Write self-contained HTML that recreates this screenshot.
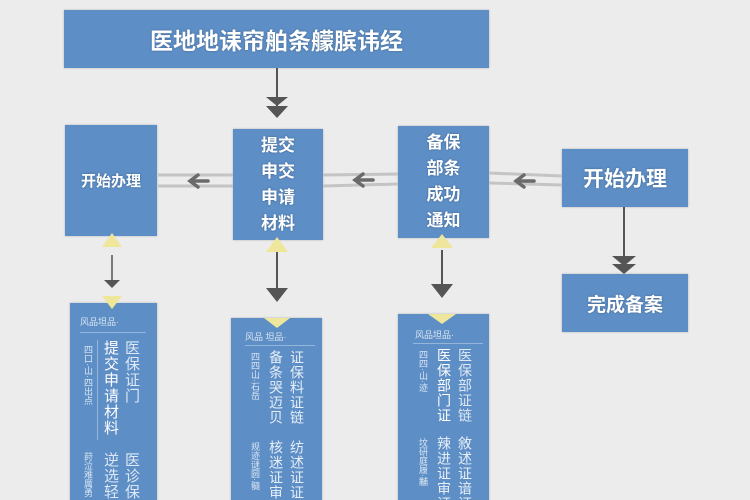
<!DOCTYPE html>
<html><head><meta charset="utf-8"><style>
html{overflow:hidden;height:500px}
body{margin:0;width:750px;height:500px;background:#ececec;position:relative;overflow:hidden;font-family:"Liberation Sans","Noto Sans CJK SC",sans-serif}
.b{position:absolute;background:#5d8ec6;color:#fff;box-shadow:0 0 2px rgba(0,0,0,.25)}
.c{display:flex;align-items:center;justify-content:center;text-align:center;font-weight:bold;text-shadow:0 0 2px rgba(0,0,0,.3)}
.v{position:absolute;writing-mode:vertical-rl;color:#fff;line-height:1;white-space:nowrap;letter-spacing:1px}
.s{position:absolute;color:#dbe6f3;font-size:9px;white-space:nowrap}
.ln{position:absolute;background:rgba(255,255,255,.35)}
svg{position:absolute;left:0;top:0}
</style></head><body>
<div class="b c" style="left:64px;top:10px;width:425px;height:58px;font-size:23px">医地地诔帘舶条艨膑讳经</div>
<div class="b c" style="left:65px;top:125px;width:92px;height:111px;font-size:15px">开始办理</div>
<div class="b c" style="left:233px;top:129px;width:90px;height:111px;font-size:17px;line-height:26px">提交<br>申交<br>申请<br>材料</div>
<div class="b c" style="left:398px;top:126px;width:91px;height:112px;font-size:17px;line-height:26px">备保<br>部条<br>成功<br>通知</div>
<div class="b c" style="left:562px;top:149px;width:126px;height:58px;font-size:21px">开始办理</div>
<div class="b c" style="left:562px;top:274px;width:126px;height:58px;font-size:19px">完成备案</div>

<div class="b" style="left:70px;top:303px;width:87px;height:200px"></div>
<div class="b" style="left:231px;top:318px;width:91px;height:185px"></div>
<div class="b" style="left:398px;top:314px;width:91px;height:189px"></div>

<div class="s" style="left:80px;top:315px">风品坦品·</div>
<div class="ln" style="left:80px;top:332px;width:66px;height:1px"></div>
<div class="s" style="left:82px;top:345px;writing-mode:vertical-rl">四口·山·四出点</div>
<div class="ln" style="left:97px;top:340px;width:1px;height:100px"></div>
<div class="v" style="left:103px;top:340px;font-size:15px">提交申请材料</div>
<div class="v" style="left:124px;top:340px;font-size:15px;color:#dde8f4">医保证门</div>
<div class="s" style="left:82px;top:452px;writing-mode:vertical-rl">莳泣难厲勇</div>
<div class="v" style="left:103px;top:452px;font-size:15px;color:#dde8f4">逆选轻悦</div>
<div class="v" style="left:124px;top:452px;font-size:15px;color:#dde8f4">医诊保部</div>

<div class="s" style="left:245px;top:330px">风品 坦品·</div>
<div class="ln" style="left:245px;top:345px;width:70px;height:1px"></div>
<div class="s" style="left:249px;top:352px;writing-mode:vertical-rl">四四山·石岳</div>
<div class="v" style="left:269px;top:350px;font-size:14px;color:#e6eef8">备条哭迈贝</div>
<div class="v" style="left:290px;top:350px;font-size:14px;color:#e6eef8">证保料证链</div>
<div class="s" style="left:249px;top:442px;writing-mode:vertical-rl">规迹谜圆·髓</div>
<div class="v" style="left:269px;top:440px;font-size:14px;color:#e6eef8">核迷证审证</div>
<div class="v" style="left:290px;top:440px;font-size:14px;color:#e6eef8">纺述证证证</div>

<div class="s" style="left:415px;top:328px">风品坦品·</div>
<div class="ln" style="left:413px;top:343px;width:70px;height:1px"></div>
<div class="s" style="left:417px;top:350px;writing-mode:vertical-rl">四四·山·迹</div>
<div class="v" style="left:437px;top:348px;font-size:14px">医保部门证</div>
<div class="v" style="left:458px;top:348px;font-size:14px;color:#dde8f4">医保部证链</div>
<div class="s" style="left:417px;top:438px;writing-mode:vertical-rl">坟研庭履·黼</div>
<div class="v" style="left:437px;top:436px;font-size:14px;color:#e6eef8">辣进证审证</div>
<div class="v" style="left:458px;top:436px;font-size:14px;color:#e6eef8">敘述证谙证</div>

<svg width="750" height="500">
<g fill="#555" stroke="#555" stroke-width="2">
<line x1="277" y1="68" x2="277" y2="108"/><polygon points="266,97 288,97 277,106" stroke="none"/><polygon points="266,106 288,106 277,118" stroke="none"/>
<line x1="624" y1="207" x2="624" y2="268"/><polygon points="612,256 636,256 624,266" stroke="none"/><polygon points="612,264 636,264 624,274" stroke="none"/>
<line x1="112" y1="255" x2="112" y2="285" stroke-width="1.5"/><polygon points="104,280 120,280 112,288" stroke="none"/>
<line x1="277" y1="250" x2="277" y2="292"/><polygon points="266,288 288,288 277,302" stroke="none"/>
<line x1="442" y1="250" x2="442" y2="288"/><polygon points="431,284 453,284 442,298" stroke="none"/>
</g>
<g fill="#eee69a">
<polygon points="112,233 102,247 122,247"/><polygon points="102,296 122,296 112,309"/>
<polygon points="277,237 266,252 288,252"/><polygon points="264,318 290,318 277,328"/>
<polygon points="442,234 431,248 453,248"/><polygon points="428,314 456,314 442,324"/>
</g>
<g stroke="#c4c4c4" stroke-width="3">
<line x1="158" y1="175" x2="233" y2="175"/><line x1="158" y1="186" x2="233" y2="186"/>
<line x1="323" y1="175" x2="398" y2="174"/><line x1="323" y1="186" x2="398" y2="184"/>
<line x1="489" y1="173" x2="562" y2="176"/><line x1="489" y1="183" x2="562" y2="185"/>
</g>
<g stroke="#6a6a6a" stroke-width="3.5" fill="none" stroke-linecap="round">
<polyline points="198,175 190,181 198,187"/><line x1="191" y1="181" x2="208" y2="181"/>
<polyline points="363,174 355,180 363,186"/><line x1="356" y1="180" x2="373" y2="180"/>
<polyline points="524,175 516,181 524,187"/><line x1="517" y1="181" x2="534" y2="181"/>
</g>
</svg>
</body></html>
